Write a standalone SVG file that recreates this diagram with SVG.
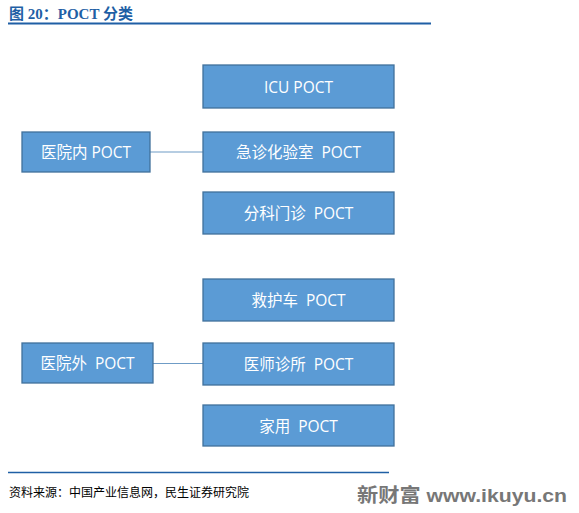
<svg xmlns="http://www.w3.org/2000/svg" width="579" height="513" viewBox="0 0 579 513">
<style>
.box{fill:#5b9bd5;stroke:#41719c;stroke-width:1.3}
.lbl{font-family:"Open Sans","Noto Sans CJK SC",sans-serif;font-size:15.5px;fill:#ffffff;text-anchor:middle;dominant-baseline:central;white-space:pre}
.conn{stroke:#6f9cc6;stroke-width:1.2;fill:none}
</style>
<rect width="579" height="513" fill="#ffffff"/>
<text x="9" y="19" font-family="'Liberation Serif','Noto Sans CJK SC',serif" font-weight="bold" font-size="15" fill="#1f5fa5">图 20：POCT 分类</text>
<line x1="8" y1="23.5" x2="431" y2="23.5" stroke="#1f5fa5" stroke-width="2"/>
<g id="connectors">
<line class="conn" x1="150" y1="152" x2="203" y2="152"/>
<line class="conn" x1="153" y1="363.5" x2="203" y2="363.5"/>
</g>
<g id="n-in"><rect class="box" x="22" y="132" width="128" height="40"/><text class="lbl" x="86" y="152">医院内 POCT</text></g>
<g id="n-out"><rect class="box" x="22" y="343" width="131" height="40"/><text class="lbl" x="87.5" y="363" xml:space="preserve">医院外  POCT</text></g>
<g id="n-icu"><rect class="box" x="203" y="65" width="191" height="43"/><text class="lbl" x="298.5" y="86.5">ICU POCT</text></g>
<g id="n-er"><rect class="box" x="203" y="132" width="191" height="40"/><text class="lbl" x="298.5" y="152" xml:space="preserve">急诊化验室  POCT</text></g>
<g id="n-dept"><rect class="box" x="203" y="192" width="191" height="42"/><text class="lbl" x="298.5" y="213" xml:space="preserve">分科门诊  POCT</text></g>
<g id="n-amb"><rect class="box" x="203" y="279" width="191" height="42"/><text class="lbl" x="298.5" y="300" xml:space="preserve">救护车  POCT</text></g>
<g id="n-clinic"><rect class="box" x="203" y="343" width="191" height="42"/><text class="lbl" x="298.5" y="364" xml:space="preserve">医师诊所  POCT</text></g>
<g id="n-home"><rect class="box" x="203" y="405" width="191" height="41"/><text class="lbl" x="298.5" y="426" xml:space="preserve">家用  POCT</text></g>
<line x1="8" y1="472.5" x2="389" y2="472.5" stroke="#1f5fa5" stroke-width="1.5"/>
<text x="9" y="497" font-family="'Noto Sans CJK SC',sans-serif" font-size="12" fill="#000000">资料来源：中国产业信息网，民生证券研究院</text>
<text x="357" y="502" font-family="'Liberation Sans','Noto Sans CJK SC',sans-serif" font-weight="bold" font-size="19" fill="#777777" textLength="210" lengthAdjust="spacingAndGlyphs">新财富 www.ikuyu.cn</text>
</svg>
